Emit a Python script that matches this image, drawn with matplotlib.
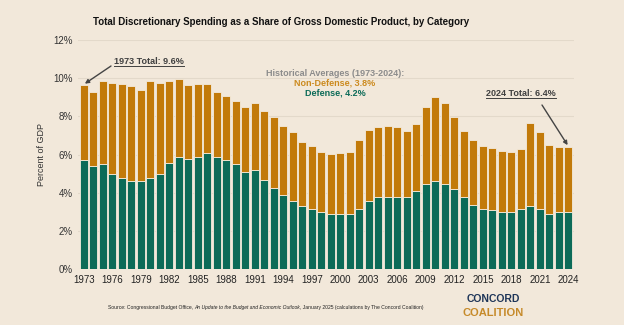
import matplotlib.pyplot as plt
from matplotlib.lines import Line2D

years = list(range(1973, 2025))

# total discretionary spending, % of GDP (bar tops)
total = [9.62, 9.25, 9.86, 9.77, 9.69, 9.60, 9.39, 9.86, 9.76, 9.83,
         9.93, 9.62, 9.69, 9.70, 9.25, 9.04, 8.80, 8.47, 8.68, 8.26,
         7.95, 7.50, 7.17, 6.64, 6.45, 6.14, 6.03, 6.07, 6.14, 6.75,
         7.30, 7.46, 7.50, 7.44, 7.23, 7.62, 8.50, 9.00, 8.68, 7.95,
         7.25, 6.75, 6.47, 6.33, 6.17, 6.14, 6.31, 7.63, 7.18, 6.50,
         6.38, 6.38]

defense = [5.69, 5.39, 5.48, 4.99, 4.78, 4.59, 4.59, 4.78, 4.99, 5.58,
           5.88, 5.77, 5.88, 6.07, 5.88, 5.69, 5.48, 5.09, 5.18, 4.67,
           4.27, 3.89, 3.57, 3.28, 3.17, 2.98, 2.88, 2.88, 2.88, 3.17,
           3.57, 3.78, 3.78, 3.78, 3.78, 4.08, 4.48, 4.59, 4.48, 4.18,
           3.78, 3.38, 3.17, 3.09, 2.98, 2.98, 3.17, 3.28, 3.17, 2.88,
           2.98, 2.98]

nondefense = [t - d for t, d in zip(total, defense)]

yticks = [0, 2, 4, 6, 8, 10, 12]
xtick_years = list(range(1973, 2025, 3))

bg = '#F2E8DA'
orange = '#C27A0A'
green = '#0C6B58'
gray_text = '#404040'

plt.rcParams['font.family'] = ['Liberation Sans', 'DejaVu Sans']

def fx(px):
   return px / 624

def fy(py):
   return 1 - py / 325

fig = plt.figure(figsize=(6.24, 3.25), dpi=100, facecolor=bg)
ax = fig.add_axes([0.125, 0.172, 0.795, 0.705], facecolor=bg)

x = list(range(len(years)))
ax.bar(x, defense, width=0.85, color=green, edgecolor='#F4EBDD', linewidth=0.6, zorder=3)
ax.bar(x, nondefense, bottom=defense, width=0.85, color=orange, edgecolor='#F4EBDD',
       linewidth=0.6, zorder=3)

ax.set_ylim(0, 12)
ax.set_xlim(-0.6, len(years) - 0.4)
ax.set_yticks(yticks)
ax.set_yticklabels([f'{v}%' for v in yticks], fontsize=7, color='#333333')
ax.set_xticks([years.index(y) for y in xtick_years])
ax.set_xticklabels([str(y) for y in xtick_years], fontsize=7, color='#222222')
ax.tick_params(length=0, pad=4)
ax.grid(axis='y', color='#E3D9CA', linewidth=0.8, zorder=0)
for s in ax.spines.values():
   s.set_visible(False)
ax.set_ylabel('Percent of GDP', fontsize=6.5, color='#333333', labelpad=5)

fig.text(fx(281), fy(22), 'Total Discretionary Spending as a Share of Gross Domestic Product, by Category',
         ha='center', va='center', fontsize=7, fontweight='bold', color='#111111')

# callouts (text and arrow kept apart so the underline only spans the text)
t1 = fig.text(fx(114), fy(62), '1973 Total: 9.6%', ha='left', va='center', fontsize=6.5,
              fontweight='bold', color=gray_text)
t2 = fig.text(fx(486), fy(94), '2024 Total: 6.4%', ha='left', va='center', fontsize=6.5,
              fontweight='bold', color=gray_text)
arrow = dict(arrowstyle='-|>', color='#444444', lw=1, mutation_scale=6, shrinkA=0, shrinkB=1)
ax.annotate('', xy=(0, total[0] + 0.05), xytext=(fx(111), fy(66)),
            textcoords='figure fraction', arrowprops=arrow)
ax.annotate('', xy=(len(years) - 1, total[-1] + 0.05), xytext=(fx(542), fy(105)),
            textcoords='figure fraction', arrowprops=arrow)

fig.text(fx(335), fy(73), 'Historical Averages (1973-2024):', ha='center', va='center',
         fontsize=6.5, fontweight='bold', color='#8C8C8C')
fig.text(fx(335), fy(83), 'Non-Defense, 3.8%', ha='center', va='center',
         fontsize=6.5, fontweight='bold', color='#CC8A1E')
fig.text(fx(335), fy(93), 'Defense, 4.2%', ha='center', va='center',
         fontsize=6.5, fontweight='bold', color=green)

# source line, italic report title in the middle
src_parts = [('Source: Congressional Budget Office, ', 'normal'),
             ('An Update to the Budget and Economic Outlook', 'italic'),
             (', January 2025 (calculations by The Concord Coalition)', 'normal')]

# logo words
fig.text(fx(493), fy(299), 'CONCORD', ha='center', va='center', fontsize=7.5,
         fontweight='bold', color='#1E3558')
fig.text(fx(493), fy(313), 'COALITION', ha='center', va='center', fontsize=8,
         fontweight='bold', color='#C68A2A')

fig.canvas.draw()
r = fig.canvas.get_renderer()
inv = fig.transFigure.inverted()

# underline the two callouts
for t in (t1, t2):
   bb = t.get_window_extent(r).transformed(inv)
   fig.add_artist(Line2D([bb.x0, bb.x1], [bb.y0 + 0.002, bb.y0 + 0.002],
                         transform=fig.transFigure, color=gray_text, lw=0.7))

xs = fx(108)
for s, st in src_parts:
   tt = fig.text(xs, fy(308), s, ha='left', va='center', fontsize=3.6,
                 style=st, color='#222222')
   xs = tt.get_window_extent(r).transformed(inv).x1

fig.savefig('out.png', dpi=100, facecolor=bg)
